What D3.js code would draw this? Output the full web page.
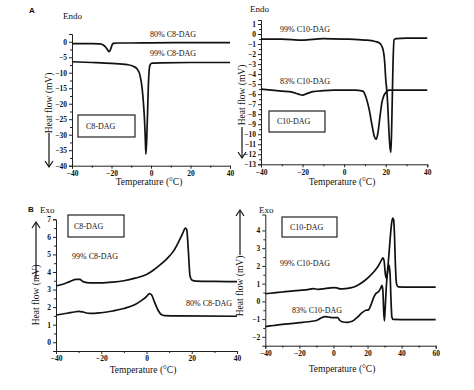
<!DOCTYPE html>
<html><head><meta charset="utf-8">
<script src="https://cdn.jsdelivr.net/npm/d3@7"></script>
<style>
body{margin:0;background:#fff;}
svg text{font-family:"Liberation Serif","Times New Roman",serif;fill:#111;}
</style></head>
<body><svg id="c" width="474" height="390"></svg>
<script>
// ---------- DATA ----------
// Panel A left (C8-DAG, endo)
const a1_80_t = [-40,-30,-26,-24,-23,-22,-21.2,-20.4,-19.7,-19,-17,-10,0,20,40];
const a1_80_v = [-0.6,-0.6,-0.7,-1.1,-1.7,-2.6,-3.2,-2.4,-1.0,-0.5,-0.4,-0.4,-0.35,-0.3,-0.3];
const a1_99_t = [-40,-30,-20,-12,-9,-7,-5.5,-4.5,-3.8,-3.3,-2.9,-2.6,-2.2,-1.7,-1.2,-0.5,0.5,5,20,40];
const a1_99_v = [-6.45,-6.7,-7.0,-7.4,-7.9,-8.8,-11,-15,-20,-25,-31,-36.3,-32,-22,-12,-7.5,-6.9,-6.8,-6.7,-6.7];
// Panel A right (C10-DAG, endo)
const a2_99_t = [-40,-30,-20,-10,0,10,15,17,18.5,19.5,20,20.5,21,21.5,22,22.5,23,23.5,24,25,30,40];
const a2_99_v = [-0.5,-0.5,-0.6,-0.45,-0.5,-0.6,-0.75,-0.9,-1.4,-2.8,-4.5,-5.6,-7.2,-9.5,-11.2,-11.8,-8,-3,-0.6,-0.45,-0.4,-0.4];
const a2_83_t = [-40,-35,-30,-25,-22,-20,-18,-15,-10,-5,0,5,9,10.5,12,13.5,14.5,15.4,16.3,17.2,18.2,19.2,20.2,21.5,25,40];
const a2_83_v = [-5.5,-5.6,-5.7,-5.8,-6.0,-6.1,-5.95,-5.75,-5.65,-5.6,-5.6,-5.6,-5.7,-6.3,-7.5,-9.2,-10.2,-10.5,-9.8,-8.3,-6.8,-6.1,-5.8,-5.6,-5.6,-5.6];
// Panel B left (C8-DAG, exo)
const b1_99_t = [-40,-37,-34,-31,-29.5,-28,-25,-20,-15,-10,-5,0,3,6,9,12,14.5,16,17.2,17.8,18.5,19.2,20,22,30,40];
const b1_99_v = [3.2,3.3,3.45,3.58,3.58,3.45,3.38,3.38,3.42,3.5,3.65,3.86,4.1,4.4,4.75,5.2,5.8,6.2,6.5,6.4,5.2,3.8,3.55,3.48,3.46,3.45];
const b1_80_t = [-40,-35,-32,-30,-28,-26,-23,-20,-15,-10,-5,-2,0,1.3,2.2,3.5,5,6.5,8,15,40];
const b1_80_v = [1.55,1.65,1.72,1.76,1.72,1.65,1.64,1.68,1.78,1.92,2.15,2.4,2.6,2.77,2.7,2.3,1.85,1.58,1.52,1.5,1.48];
// Panel B right (C10-DAG, exo)
const b2_99_t = [-40,-35,-30,-25,-20,-15,-12,-9,-5,0,2,4,7,10,14,18,21,24,26,28,29,29.7,30.5,31.2,32,33,34,34.7,35.3,35.8,36.3,37,38,45,60];
const b2_99_v = [0.43,0.48,0.53,0.58,0.62,0.66,0.72,0.68,0.72,0.78,0.76,0.7,0.72,0.76,0.9,1.15,1.4,1.7,1.95,2.3,2.45,2.3,1.5,1.3,2.0,3.2,4.3,4.7,4.6,3.8,2.2,1.0,0.82,0.8,0.8];
const b2_83_t = [-40,-35,-30,-25,-20,-15,-10,-7,-5,-3,0,2.5,3.5,5,8,11,14,17,19,20.5,22,23.5,25,26.5,27.5,28.5,29,29.5,29.9,30.4,31,31.8,32.6,33.2,33.8,34.3,35,45,60];
const b2_83_v = [-1.42,-1.36,-1.3,-1.25,-1.2,-1.15,-1.08,-0.92,-0.86,-0.88,-0.92,-0.92,-1.05,-1.15,-1.18,-1.12,-0.9,-0.62,-0.5,-0.48,-0.2,0.2,0.45,0.55,0.7,0.9,0.6,-0.6,-1.1,-0.3,0.8,1.7,2.05,1.6,0,-0.9,-1.02,-1.03,-1.03];

// tick labels
const xTicksA = [-40,-20,0,20,40];
const xTicksB2 = [-40,-20,0,20,40,60];
const yTicksA1 = [0,-5,-10,-15,-20,-25,-30,-35,-40];
const yTicksA2 = [1,0,-1,-2,-3,-4,-5,-6,-7,-8,-9,-10,-11,-12,-13];
const yTicksB1 = [0,1,2,3,4,5,6,7];
const yTicksB2 = [-2,-1,0,1,2,3,4];

// ---------- DRAW ----------
const svg = d3.select("#c");
const zip = (t,v)=>t.map((d,i)=>[d,v[i]]);

function panel(cfg){
  const x = d3.scaleLinear().domain(cfg.xd).range(cfg.xr);
  const y = d3.scaleLinear().domain(cfg.yd).range(cfg.yr);
  const g = svg.append("g");
  const xStep = cfg.xt[1]-cfg.xt[0];
  const xMinor = cfg.xt.slice(0,-1).map(d=>d+xStep/2);
  g.append("g").attr("transform",`translate(0,${cfg.yr[0]})`)
    .call(d3.axisBottom(x).tickValues(xMinor).tickSize(2).tickFormat(""))
    .call(a=>a.select(".domain").remove());
  const yMinor = cfg.yt.slice(0,-1).map((d,i)=>(d+cfg.yt[i+1])/2);
  g.append("g").attr("transform",`translate(${cfg.xr[0]},0)`)
    .call(d3.axisLeft(y).tickValues(yMinor).tickSize(2).tickFormat(""))
    .call(a=>a.select(".domain").remove());
  const xa = g.append("g").attr("transform",`translate(0,${cfg.yr[0]})`)
    .call(d3.axisBottom(x).tickValues(cfg.xt).tickSize(3).tickPadding(2).tickFormat(d3.format("d")));
  const ya = g.append("g").attr("transform",`translate(${cfg.xr[0]},0)`)
    .call(d3.axisLeft(y).tickValues(cfg.yt).tickSize(3).tickPadding(2).tickFormat(d3.format("d")));
  [xa,ya].forEach(a=>{
    a.selectAll("text").style("font-family","Liberation Serif").style("font-size","7.5px").style("font-weight","bold").attr("fill","#111");
    a.selectAll("line,path").attr("stroke","#222").attr("stroke-width",1);
  });
  g.selectAll(".tick line").attr("stroke","#222");
  const line = d3.line().x(d=>x(d[0])).y(d=>y(d[1])).curve(d3.curveMonotoneX);
  cfg.series.forEach(s=>{
    g.append("path").datum(zip(s.t,s.v)).attr("d",line)
      .attr("fill","none").attr("stroke","#111").attr("stroke-width",1.7).attr("stroke-linejoin","round");
  });
  cfg.labels.forEach(l=>{
    g.append("text").attr("x",l[0]).attr("y",l[1]).attr("font-size",l[3]||8).text(l[2]);
  });
  g.append("rect").attr("x",cfg.box[0]).attr("y",cfg.box[1]).attr("width",cfg.box[2]).attr("height",cfg.box[3])
    .attr("fill","none").attr("stroke","#222").attr("stroke-width",1.2);
  g.append("text").attr("x",cfg.box[0]+cfg.box[4]).attr("y",cfg.box[1]+cfg.box[3]/2).attr("dy","0.35em")
    .attr("font-size",8).text(cfg.boxText);
  g.append("text").attr("x",cfg.xtitle[0]).attr("y",cfg.xtitle[1]).attr("text-anchor","middle")
    .attr("font-size",9.5).text("Temperature (°C)");
  g.append("text").attr("transform",`translate(${cfg.ytitle[0]},${cfg.ytitle[1]}) rotate(-90)`)
    .attr("text-anchor","middle").attr("dy","0.35em").attr("font-size",9.5).text("Heat flow (mV)");
  const [ax,ay1,ay2,up] = cfg.arrow;
  g.append("line").attr("x1",ax).attr("x2",ax).attr("y1",ay1).attr("y2",ay2).attr("stroke","#111").attr("stroke-width",1.2);
  const tip = up?ay1:ay2, dir = up?1:-1;
  g.append("path").attr("d",`M${ax-4},${tip+dir*6}L${ax},${tip}L${ax+4},${tip+dir*6}`)
    .attr("fill","none").attr("stroke","#111").attr("stroke-width",1.2);
}

panel({xd:[-40,40],xr:[72,230],yd:[-40,2.5],yr:[165.7,34],xt:xTicksA,yt:yTicksA1,
  series:[{t:a1_80_t,v:a1_80_v},{t:a1_99_t,v:a1_99_v}],
  labels:[[150,37,"80% C8-DAG"],[150,56,"99% C8-DAG"],[63,19,"Endo",9]],
  box:[78,115,57,22,8],boxText:"C8-DAG",xtitle:[149,185],ytitle:[49,103],arrow:[49,133,167,false]});

panel({xd:[-40,40],xr:[261,427.3],yd:[-13,1.4],yr:[164.3,20],xt:xTicksA,yt:yTicksA2,
  series:[{t:a2_99_t,v:a2_99_v},{t:a2_83_t,v:a2_83_v}],
  labels:[[280,32,"99% C10-DAG"],[280,84,"83% C10-DAG"],[250,12,"Endo",9]],
  box:[269,111,56,21,8],boxText:"C10-DAG",xtitle:[342,185],ytitle:[242,95],arrow:[242,127,158,false]});

panel({xd:[-40,40],xr:[56,237],yd:[-0.5,7],yr:[351,219.3],xt:xTicksA,yt:yTicksB1,
  series:[{t:b1_99_t,v:b1_99_v},{t:b1_80_t,v:b1_80_v}],
  labels:[[72,259,"99% C8-DAG"],[186,306,"80% C8-DAG"],[40,213,"Exo",9]],
  box:[68,215,56,22,6],boxText:"C8-DAG",xtitle:[143,373],ytitle:[36,295],arrow:[36,222,278,true]});

panel({xd:[-40,60],xr:[265.3,435.7],yd:[-2.5,4.9],yr:[345.7,214.5],xt:xTicksB2,yt:yTicksB2,
  series:[{t:b2_99_t,v:b2_99_v},{t:b2_83_t,v:b2_83_v}],
  labels:[[280,266,"99% C10-DAG"],[292,313,"83% C10-DAG"],[259,213,"Exo",9]],
  box:[282,217,55,20,8],boxText:"C10-DAG",xtitle:[342,372],ytitle:[240,286],arrow:[240,210,255,true]});

svg.append("text").attr("x",29).attr("y",13).attr("font-size",8).attr("font-weight","bold")
  .style("font-family","Liberation Sans").text("A");
svg.append("text").attr("x",28).attr("y",212).attr("font-size",8).attr("font-weight","bold")
  .style("font-family","Liberation Sans").text("B");
</script></body></html>
